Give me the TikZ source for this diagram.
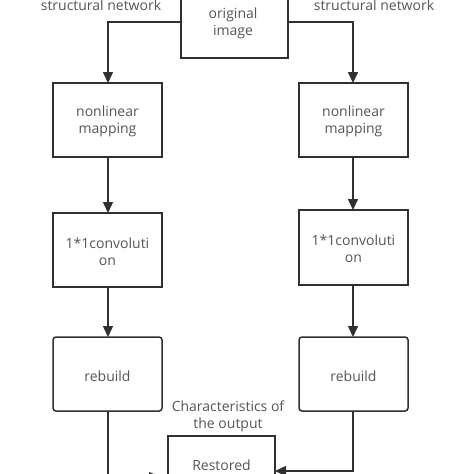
\documentclass[tikz,border=0pt]{standalone}
\usepackage{fontspec}
\setmainfont{Open Sans}
\usetikzlibrary{arrows.meta}
\definecolor{linec}{HTML}{303030}
\definecolor{textc}{HTML}{555555}
\tikzset{
  box/.style={draw=linec, line width=1.5pt, inner sep=0pt},
  lbl/.style={text=textc, font=\fontsize{14}{16}\selectfont, align=center, inner sep=0pt},
  conn/.style={draw=linec, line width=1.5pt, -{Triangle[length=11pt,width=10pt]}},
}
\begin{document}
\begin{tikzpicture}[x=1pt,y=-1pt]
\useasboundingbox (0,0) rectangle (474,474);
\clip (0,0) rectangle (474,474);
% boxes
\draw[box] (181,-11) rectangle (288,58);
\node[lbl] (orig) at (233,23.5) {original\\[1pt]image};
\coordinate (origL) at (181,22);
\coordinate (origR) at (288,22);

\draw[box] (53,83) rectangle (162,157);
\node[lbl] (nlL) at (107.5,121) {nonlinear\\[1pt]mapping};
\draw[box] (299,83) rectangle (408,157);
\node[lbl] (nlR) at (353.5,121) {nonlinear\\[1pt]mapping};

\draw[box] (53,213) rectangle (162,287);
\node[lbl] (cvL) at (107.5,252) {1*1convoluti\\[1pt]on};
\draw[box] (299,210) rectangle (408,285);
\node[lbl] (cvR) at (353.5,249) {1*1convoluti\\[1pt]on};

\draw[box, rounded corners=3pt] (53,337) rectangle (162,411);
\node[lbl] (rbL) at (107.5,376) {rebuild};
\draw[box, rounded corners=3pt] (299,337) rectangle (408,411);
\node[lbl] (rbR) at (353.5,376) {rebuild};

\draw[box] (168,436) rectangle (275,540);
\node[lbl] (rest) at (221.5,465) {Restored};

% labels
\node[lbl] (snL) at (101,5) {structural network};
\node[lbl] (snR) at (374,5) {structural network};
\node[lbl] (char) at (228,416) {Characteristics of\\[1pt]the output};

% named connector points
\coordinate (tNL) at (108,83);
\coordinate (tNR) at (353,83);
\coordinate (bNL) at (108,157);
\coordinate (bNR) at (353,157);
\coordinate (tCL) at (108,213);
\coordinate (tCR) at (353,210);
\coordinate (bCL) at (108,287);
\coordinate (bCR) at (353,285);
\coordinate (tRL) at (108,337);
\coordinate (tRR) at (353,337);
\coordinate (bRL) at (108,411);
\coordinate (bRR) at (353,411);
\coordinate (restL) at (168,477);
\coordinate (restR) at (275,471);

% connectors
\draw[conn] (origL) -| (tNL);
\draw[conn] (origR) -| (tNR);
\draw[conn] (bNL) -- (tCL);
\draw[conn] (bNR) -- (tCR);
\draw[conn] (bCL) -- (tRL);
\draw[conn] (bCR) -- (tRR);
\draw[conn, shorten >=8pt] (bRL) |- (restL);
\draw[conn] (bRR) |- (restR);
\end{tikzpicture}
\end{document}
